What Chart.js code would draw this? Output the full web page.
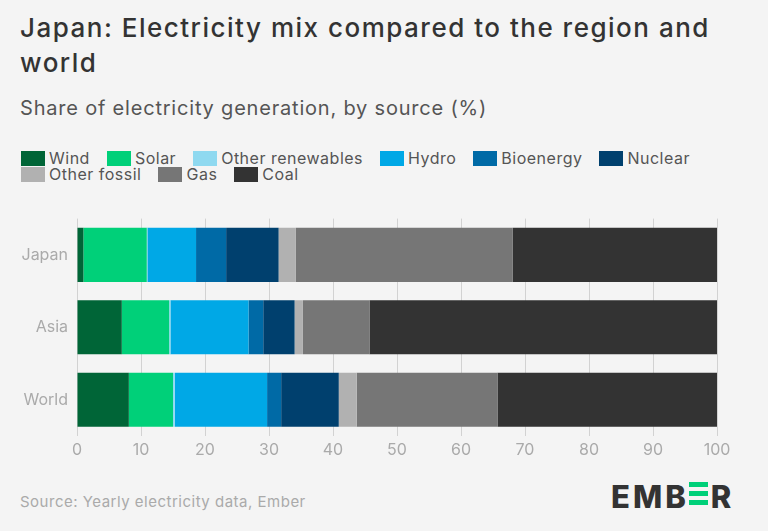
<!DOCTYPE html>
<html>
<head>
<meta charset="utf-8">
<script src="https://cdn.jsdelivr.net/npm/chart.js@4.4.1/dist/chart.umd.min.js"></script>
<style>
  html, body { margin: 0; padding: 0; }
  body { width: 768px; height: 531px; background: #f4f4f4; position: relative; overflow: hidden; font-family: Inter, "Noto Sans", sans-serif; }
  #title { position: absolute; left: 20px; top: 10px; width: 735px; font-size: 26px; line-height: 35px; font-weight: 500; color: #333; letter-spacing: 1.5px; }
  #subtitle { position: absolute; left: 20px; top: 96px; font-size: 20px; line-height: 24px; color: #555; letter-spacing: 0.8px; }
  #legend { position: absolute; left: 21px; top: 150px; width: 720px; display: flex; flex-wrap: wrap; }
  .item { display: flex; align-items: center; height: 16px; margin-right: 17px; font-size: 16px; line-height: 16px; color: #555; letter-spacing: 0.5px; }
  .box { width: 24px; height: 15px; margin-right: 4px; }
  #wrap { position: absolute; left: 0; top: 200px; width: 768px; height: 270px; }
  #source { position: absolute; left: 20px; top: 493px; font-size: 15px; line-height: 18px; color: #aaa; letter-spacing: 0.5px; }
  #logo { position: absolute; left: 611px; top: 481px; font-size: 31px; line-height: 31px; font-weight: 800; color: #333; letter-spacing: 3px; }
  #logo .e { color: transparent; background: linear-gradient(to bottom, transparent 4px, #00d079 4px, #00d079 9px, transparent 9px, transparent 13px, #00d079 13px, #00d079 18px, transparent 18px, transparent 22px, #00d079 22px, #00d079 27px, transparent 27px); background-size: 19px 31px; background-repeat: no-repeat; }
</style>
</head>
<body>
<div id="title">Japan: Electricity mix compared to the region and world</div>
<div id="subtitle">Share of electricity generation, by source (%)</div>
<div id="legend"></div>
<div id="wrap"><canvas id="mix"></canvas></div>
<div id="source">Source: Yearly electricity data, Ember</div>
<div id="logo">EMB<span class="e">E</span>R</div>
<script>
// values, % of generation
var categories = ['Japan', 'Asia', 'World'];
var sources = ['Wind', 'Solar', 'Other renewables', 'Hydro', 'Bioenergy', 'Nuclear', 'Other fossil', 'Gas', 'Coal'];
var wind = [1.0, 7.0, 8.1];
var solar = [9.9, 7.4, 6.9];
var otherRenewables = [0.1, 0.2, 0.3];
var hydro = [7.6, 12.2, 14.4];
var bioenergy = [4.7, 2.3, 2.2];
var nuclear = [8.2, 4.9, 9.0];
var otherFossil = [2.7, 1.3, 2.8];
var gas = [33.9, 10.4, 22.0];
var coal = [31.9, 54.3, 34.3];
var xTicks = [0, 10, 20, 30, 40, 50, 60, 70, 80, 90, 100];

var colors = ['#006537', '#00d079', '#8fd9f0', '#00a8e6', '#006aa6', '#00406e', '#b1b1b1', '#767676', '#333333'];
var series = [wind, solar, otherRenewables, hydro, bioenergy, nuclear, otherFossil, gas, coal];

var legend = document.getElementById('legend');
sources.forEach(function (name, i) {
    var item = document.createElement('div');
    item.className = 'item';
    item.innerHTML = '<span class="box" style="background:' + colors[i] + '"></span>' + name;
    legend.appendChild(item);
});

var ctx = document.getElementById('mix').getContext('2d');
var mixChart = new Chart(ctx, {
    type: 'bar',
    data: {
        labels: categories,
        datasets: series.map(function (vals, i) {
            return {
                label: sources[i],
                data: vals,
                backgroundColor: colors[i],
                borderWidth: 0,
                categoryPercentage: 1,
                barPercentage: 0.747
            };
        })
    },
    options: {
        indexAxis: 'y',
        responsive: true,
        maintainAspectRatio: false,
        animation: false,
        layout: { padding: { top: 17, right: 51, left: 0, bottom: 0 } },
        plugins: {
            legend: { display: false },
            tooltip: { enabled: false }
        },
        scales: {
            x: {
                stacked: true,
                min: 0,
                max: 100,
                afterBuildTicks: function (scale) {
                    scale.ticks = xTicks.map(function (v) { return { value: v }; });
                },
                afterFit: function (scale) { scale.height = 34; },
                grid: { color: '#d2d2d2', lineWidth: 1, drawTicks: false },
                border: { display: false },
                ticks: { color: '#aaa', font: { family: 'Inter', size: 16 }, padding: 5 }
            },
            y: {
                stacked: true,
                afterFit: function (scale) { scale.width = 77; },
                grid: { display: false, drawTicks: false },
                border: { display: false },
                ticks: { color: '#aaa', font: { family: 'Inter', size: 16 }, padding: 9 }
            }
        }
    }
});
</script>
</body>
</html>
